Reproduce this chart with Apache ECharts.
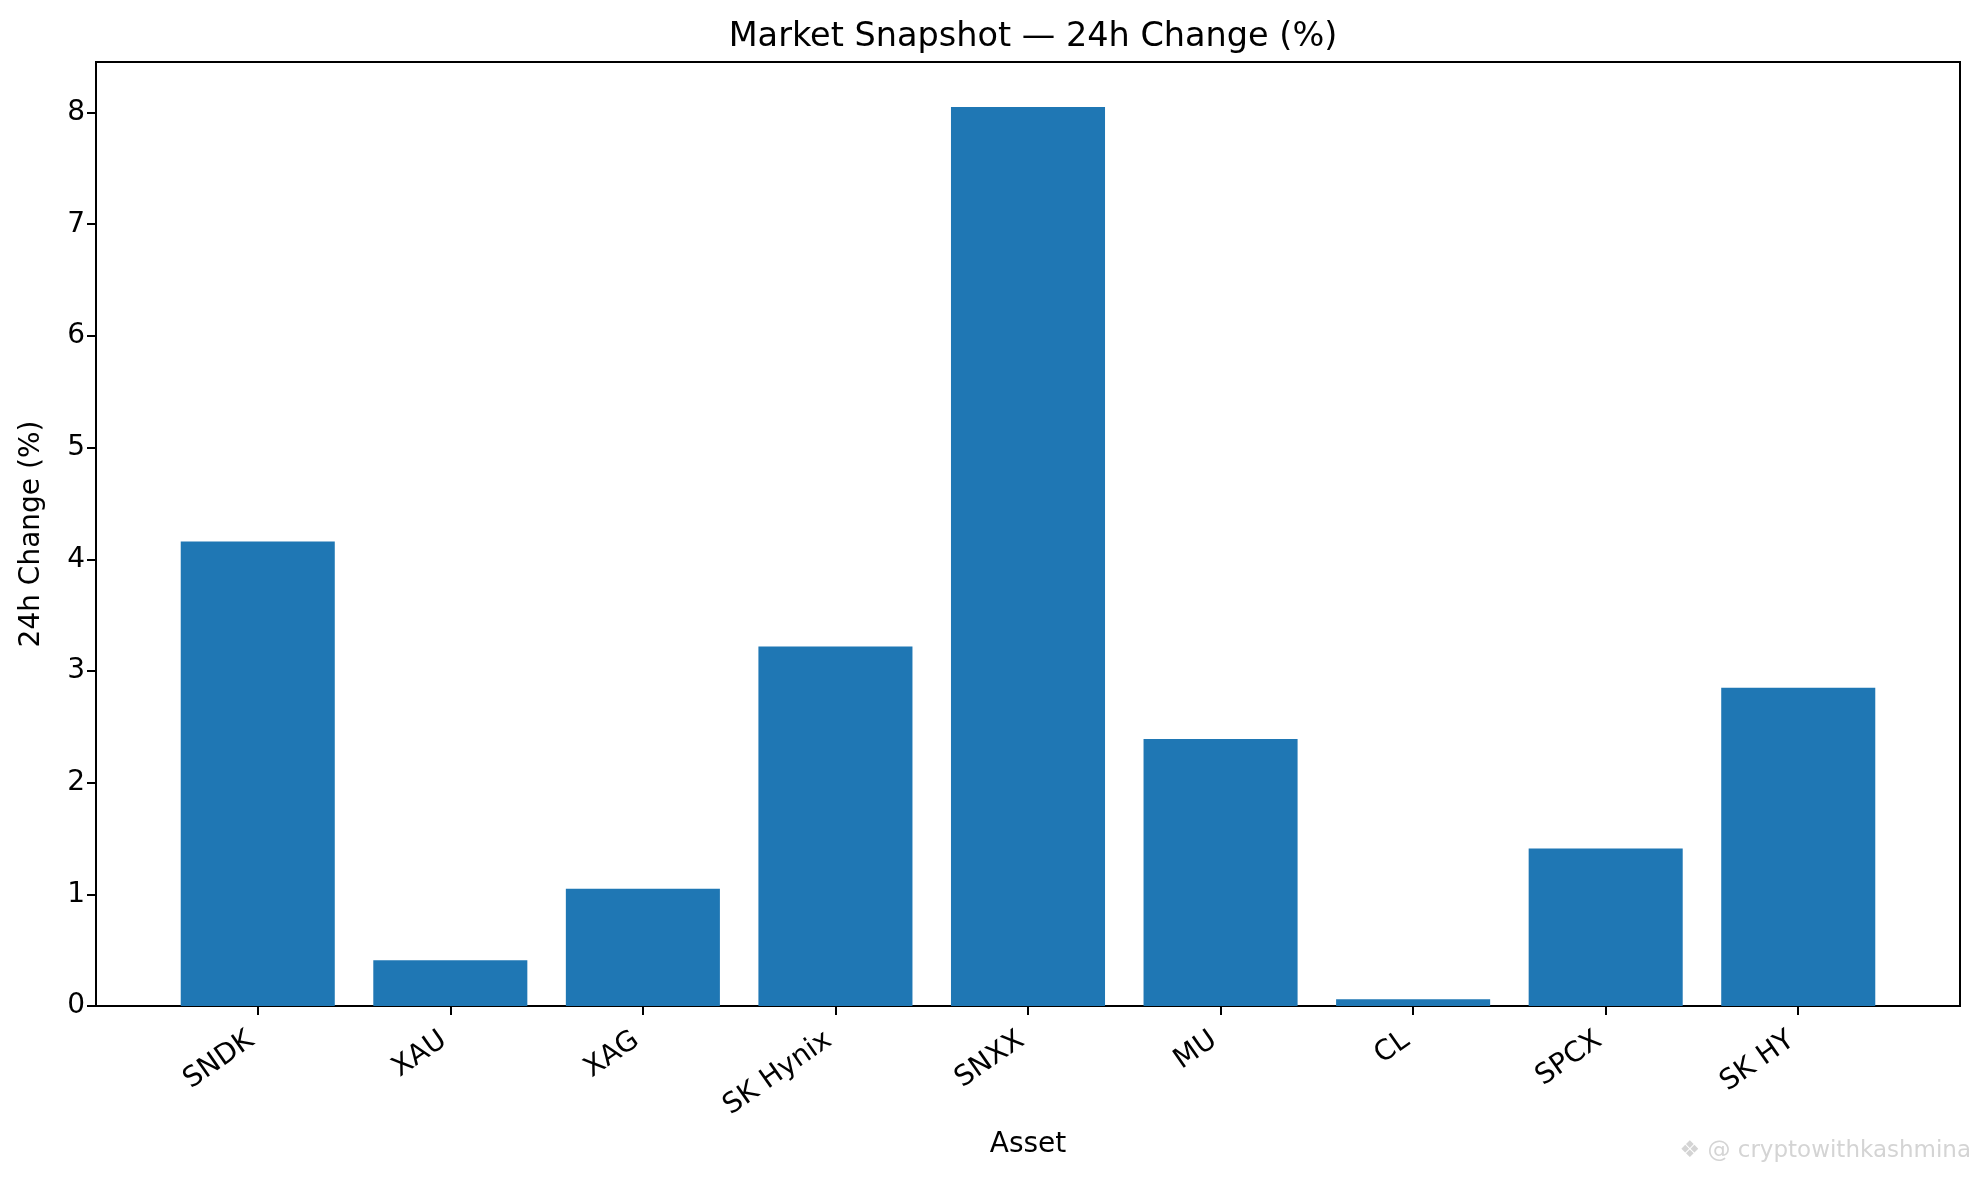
<html>
  <head>
    <meta charset="utf-8">
    <script src="https://cdn.jsdelivr.net/npm/echarts@6.0.0/dist/echarts.min.js"></script>
    <style>
      html, body { margin: 0; padding: 0; background: #fff; }
      #chart { width: 1979px; height: 1178px; }
    </style>
  </head>
  <body>
    <div id="chart"></div>
  </body>
  <script>
    // data
    var assets = ['SNDK', 'XAU', 'XAG', 'SK Hynix', 'SNXX', 'MU', 'CL', 'SPCX', 'SK HY'];
    var change24h = [4.16, 0.41, 1.05, 3.22, 8.05, 2.39, 0.06, 1.41, 2.85];
    var yTicks = [0, 1, 2, 3, 4, 5, 6, 7, 8];

    // matplotlib style limits: bars 0.8 wide, 5% margins
    var xMin = -0.4 - 0.05 * (assets.length - 1 + 0.8);
    var xMax = assets.length - 1 + 0.4 + 0.05 * (assets.length - 1 + 0.8);
    var yMax = Math.max.apply(null, change24h) * 1.05;

    var W = 1979, H = 1178;
    var gridL = 96, gridR = 19, gridT = 62, gridB = 172;
    var barW = 0.8 * (W - gridL - gridR) / (xMax - xMin);
    var xIdx = assets.map(function (a, i) { return i; });

    var font = 'DejaVu Sans';
    var chart = echarts.init(document.getElementById('chart'));
    var option = {
      animation: false,
      backgroundColor: '#fff',
      textStyle: { fontFamily: font },
      title: {
        text: 'Market Snapshot \u2014 24h Change (%)',
        left: (gridL + W - gridR) / 2, top: 15, textAlign: 'center',
        textStyle: { fontFamily: font, fontSize: 33.5, fontWeight: 'normal', color: '#000' }
      },
      grid: {
        left: gridL, right: gridR, top: gridT, bottom: gridB,
        show: true, borderColor: '#000', borderWidth: 2,
        outerBoundsMode: 'none'
      },
      xAxis: {
        type: 'value', min: xMin, max: xMax,
        name: 'Asset', nameLocation: 'middle', nameGap: 125,
        nameTextStyle: { fontFamily: font, fontSize: 28, color: '#000' },
        splitLine: { show: false },
        axisLine: { show: true, onZero: false, lineStyle: { color: '#000', width: 2 } },
        axisTick: { show: true, customValues: xIdx, length: 9, lineStyle: { color: '#000', width: 2 } },
        axisLabel: {
          customValues: xIdx, rotate: 35, margin: 27, padding: [0, 8, 0, 0],
          fontFamily: font, fontSize: 28, color: '#000',
          formatter: function (v) { return assets[Math.round(v)]; }
        }
      },
      yAxis: {
        type: 'value', min: 0, max: yMax,
        name: '24h Change (%)', nameLocation: 'middle', nameGap: 50, nameRotate: 90,
        nameTextStyle: { fontFamily: font, fontSize: 28, color: '#000' },
        splitLine: { show: false },
        axisLine: { show: true, onZero: false, lineStyle: { color: '#000', width: 2 } },
        axisTick: { show: true, customValues: yTicks, length: 9, lineStyle: { color: '#000', width: 2 } },
        axisLabel: {
          customValues: yTicks, margin: 11,
          fontFamily: font, fontSize: 28, color: '#000'
        }
      },
      series: [{
        type: 'bar',
        barWidth: barW,
        itemStyle: { color: '#1f77b4' },
        data: assets.map(function (a, i) { return [i, change24h[i]]; })
      }],
      graphic: [{
        type: 'text', right: 8, top: 1140,
        style: { text: '\u2756 @ cryptowithkashmina', fill: '#d4d4d4', font: '23px "DejaVu Sans"' }
      }]
    };
    chart.setOption(option);
  </script>
</html>
